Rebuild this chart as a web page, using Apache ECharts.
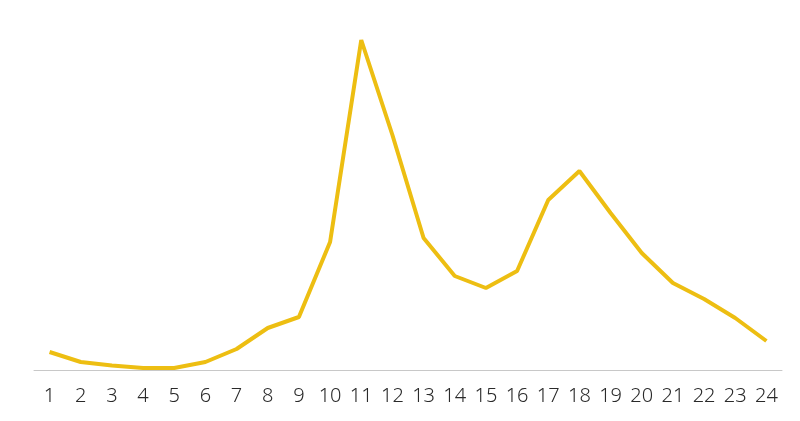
<!DOCTYPE html>
<html>
<head>
<meta charset="utf-8">
<script src="https://cdn.jsdelivr.net/npm/echarts@6/dist/echarts.min.js"></script>
<style>
  html, body { margin: 0; padding: 0; background: #fff; }
  #chart { width: 800px; height: 421px; }
</style>
</head>
<body>
<div id="chart"></div>
<script>
// x categories (hours)
var hours = ['1','2','3','4','5','6','7','8','9','10','11','12','13','14','15','16','17','18','19','20','21','22','23','24'];
// values
var values = [18, 8, 4.5, 2, 2, 8, 21, 42, 53, 128, 330, 235, 132, 94, 82, 99, 170, 199, 157, 117, 87, 71, 52, 29];

var myChart = echarts.init(document.getElementById('chart'));
var option = {
    animation: false,
    grid: { left: 34, right: 18, top: 30, bottom: 51 },
    xAxis: {
        type: 'category',
        data: hours,
        boundaryGap: true,
        axisLine: { lineStyle: { color: '#c8c8c8', width: 1 } },
        axisTick: { show: false },
        axisLabel: {
            color: '#2a2a2a',
            fontSize: 20,
            margin: 16,
            fontFamily: 'Noto Sans',
            fontWeight: 300,
            interval: 0
        }
    },
    yAxis: {
        type: 'value',
        min: 0,
        max: 340,
        show: false
    },
    series: [{
        type: 'line',
        data: values,
        showSymbol: false,
        lineStyle: { color: '#EDBE12', width: 4 },
        itemStyle: { color: '#EDBE12' }
    }]
};
myChart.setOption(option);
</script>
</body>
</html>
